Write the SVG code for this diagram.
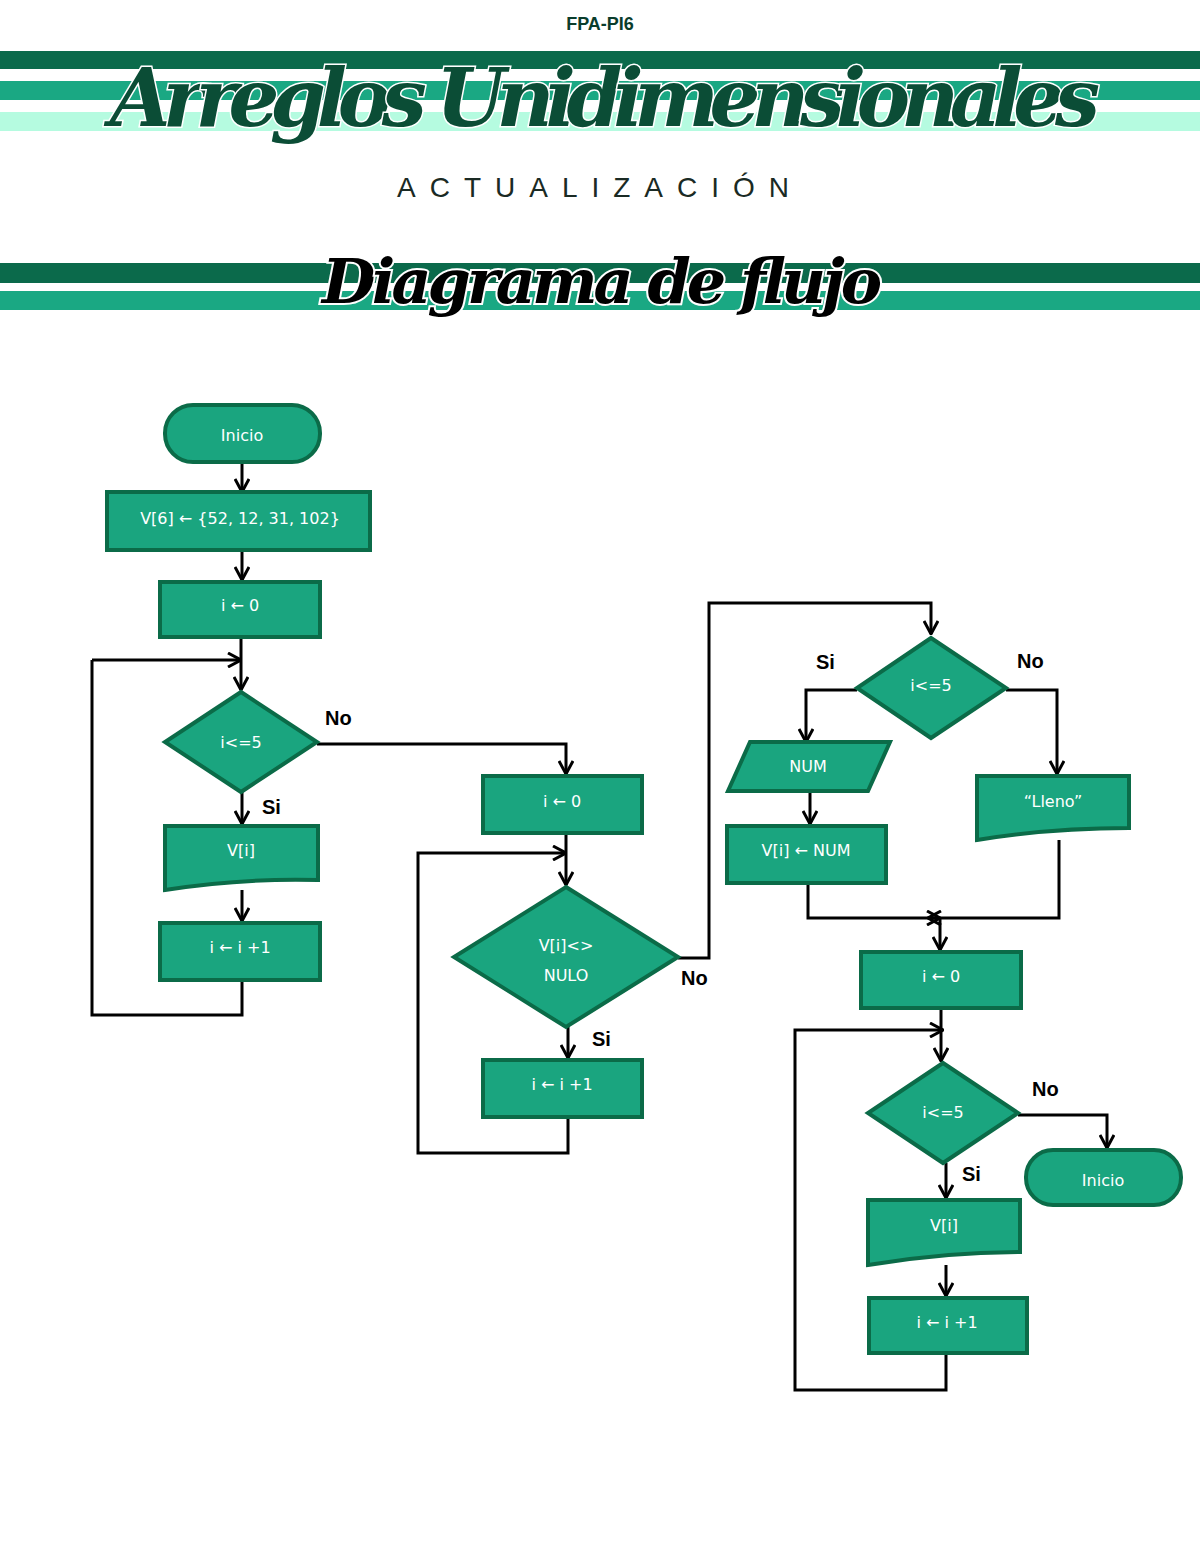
<svg xmlns="http://www.w3.org/2000/svg" width="1200" height="1553" viewBox="0 0 1200 1553">
<style>
.n{fill:#1aa57f;stroke:#0b6b48;stroke-width:4}
.t{fill:#fff;font-family:"DejaVu Sans","Liberation Sans",sans-serif;font-size:16px;text-anchor:middle;dominant-baseline:middle}
.c{fill:none;stroke:#000;stroke-width:3}
.l{font-family:"Liberation Sans",sans-serif;font-weight:bold;font-size:20px;fill:#000}
</style>
<defs><marker id="a" viewBox="0 0 16 16" refX="15" refY="8" markerWidth="16" markerHeight="16" markerUnits="userSpaceOnUse" orient="auto"><polyline points="2,1 15,8 2,15" fill="none" stroke="#000" stroke-width="3"/></marker></defs>
<rect width="1200" height="1553" fill="#fff"/>
<g id="header">
<rect x="0" y="51" width="1200" height="18" fill="#0b6a4b"/>
<rect x="0" y="81" width="1200" height="19" fill="#1aa883"/>
<rect x="0" y="112" width="1200" height="19" fill="#b5fbe0"/>
<rect x="0" y="263" width="1200" height="20" fill="#0b6a4b"/>
<rect x="0" y="291" width="1200" height="19" fill="#1aa883"/>
<text x="600" y="30" font-family="Liberation Sans,sans-serif" font-weight="bold" font-size="18" text-anchor="middle" fill="#0a3d2c">FPA-PI6</text>
<text x="605" y="126" font-family="DejaVu Serif,serif" font-style="italic" font-weight="bold" font-size="80" text-anchor="middle" fill="#0b4d36" stroke="#fff" stroke-width="3" paint-order="stroke" textLength="990">Arreglos Unidimensionales</text>
<text x="600" y="197" font-family="Liberation Sans,sans-serif" font-size="28" text-anchor="middle" fill="#1a2a24" letter-spacing="14">ACTUALIZACIÓN</text>
<text x="602" y="303" font-family="DejaVu Serif,serif" font-style="italic" font-weight="bold" font-size="62" text-anchor="middle" fill="#000" stroke="#fff" stroke-width="4" paint-order="stroke" textLength="560">Diagrama de flujo</text>
</g>
<g id="connectors" class="c">
<path d="M242,462V492" marker-end="url(#a)"/>
<path d="M242,550V580" marker-end="url(#a)"/>
<path d="M241,637V690" marker-end="url(#a)"/>
<path d="M92,660H241" marker-end="url(#a)"/>
<path d="M242,980V1015H92V660"/>
<path d="M242,792V824" marker-end="url(#a)"/>
<path d="M242,890V921" marker-end="url(#a)"/>
<path d="M317,744H566V774" marker-end="url(#a)"/>
<path d="M566,833V885" marker-end="url(#a)"/>
<path d="M568,1027V1058" marker-end="url(#a)"/>
<path d="M568,1117V1153H418V853H566" marker-end="url(#a)"/>
<path d="M678,958H709V603H931V634" marker-end="url(#a)"/>
<path d="M857,690H806V742" marker-end="url(#a)"/>
<path d="M1006,690H1057V774" marker-end="url(#a)"/>
<path d="M810,791V824" marker-end="url(#a)"/>
<path d="M808,883V918H940" marker-end="url(#a)"/>
<path d="M1059,840V918H928" marker-end="url(#a)"/>
<path d="M940,918V950" marker-end="url(#a)"/>
<path d="M941,1008V1061" marker-end="url(#a)"/>
<path d="M946,1353V1390H795V1030H943" marker-end="url(#a)"/>
<path d="M1018,1115H1107V1148" marker-end="url(#a)"/>
<path d="M946,1163V1198" marker-end="url(#a)"/>
<path d="M946,1265V1296" marker-end="url(#a)"/>
</g>
<g id="labels">
<text class="l" x="325" y="725">No</text>
<text class="l" x="262" y="814">Si</text>
<text class="l" x="592" y="1046">Si</text>
<text class="l" x="681" y="985">No</text>
<text class="l" x="816" y="669">Si</text>
<text class="l" x="1017" y="668">No</text>
<text class="l" x="1032" y="1096">No</text>
<text class="l" x="962" y="1181">Si</text>
</g>
<g id="inicio1"><rect class="n" x="165" y="405" width="155" height="57" rx="28"/><text class="t" x="242" y="436">Inicio</text></g>
<g id="init"><rect class="n" x="107" y="492" width="263" height="58"/><text class="t" x="240" y="519">V[6] ← {52, 12, 31, 102}</text></g>
<g id="i0a"><rect class="n" x="160" y="582" width="160" height="55"/><text class="t" x="240" y="606">i ← 0</text></g>
<g id="d1"><polygon class="n" points="241,692 317,742 241,792 165,742"/><text class="t" x="241" y="743">i&lt;=5</text></g>
<g id="out1"><path class="n" d="M165,826H318V880Q240,878 165,890Z"/><text class="t" x="241" y="851">V[i]</text></g>
<g id="inc1"><rect class="n" x="160" y="923" width="160" height="57"/><text class="t" x="240" y="948">i ← i +1</text></g>
<g id="i0b"><rect class="n" x="483" y="776" width="159" height="57"/><text class="t" x="562" y="802">i ← 0</text></g>
<g id="d2"><polygon class="n" points="566,887 678,957 566,1027 454,957"/><text class="t" x="566" y="946">V[i]&lt;&gt;</text><text class="t" x="566" y="976">NULO</text></g>
<g id="inc2"><rect class="n" x="483" y="1060" width="159" height="57"/><text class="t" x="562" y="1085">i ← i +1</text></g>
<g id="d3"><polygon class="n" points="931,638 1006,688 931,738 857,688"/><text class="t" x="931" y="686">i&lt;=5</text></g>
<g id="in1"><polygon class="n" points="750,742 890,742 868,791 728,791"/><text class="t" x="808" y="767">NUM</text></g>
<g id="asig"><rect class="n" x="727" y="826" width="159" height="57"/><text class="t" x="806" y="851">V[i] ← NUM</text></g>
<g id="lleno"><path class="n" d="M977,776H1129V828Q1050,828 977,840Z"/><text class="t" x="1053" y="802">“Lleno”</text></g>
<g id="i0c"><rect class="n" x="861" y="952" width="160" height="56"/><text class="t" x="941" y="977">i ← 0</text></g>
<g id="d4"><polygon class="n" points="943,1063 1018,1113 943,1163 868,1113"/><text class="t" x="943" y="1113">i&lt;=5</text></g>
<g id="inicio2"><rect class="n" x="1026" y="1150" width="155" height="55" rx="27"/><text class="t" x="1103" y="1181">Inicio</text></g>
<g id="out2"><path class="n" d="M868,1200H1020V1252Q945,1252 868,1265Z"/><text class="t" x="944" y="1226">V[i]</text></g>
<g id="inc3"><rect class="n" x="869" y="1298" width="158" height="55"/><text class="t" x="947" y="1323">i ← i +1</text></g>
</svg>
